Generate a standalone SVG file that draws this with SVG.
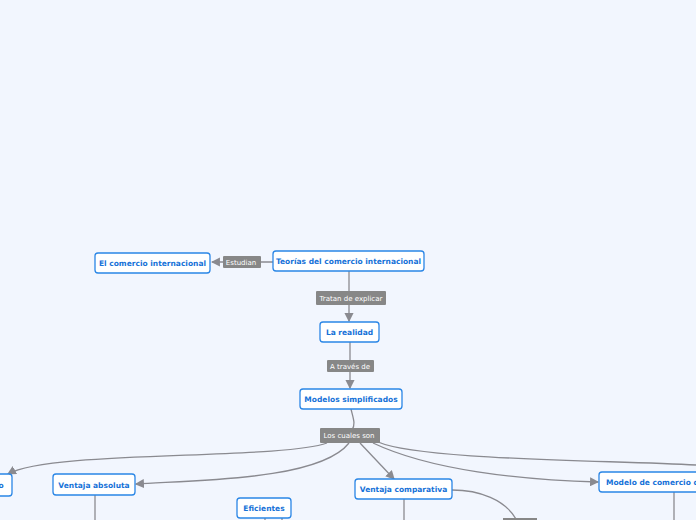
<svg xmlns="http://www.w3.org/2000/svg" width="696" height="520" viewBox="0 0 696 520">
<defs>
<style>
.n rect{fill:#fff;stroke:#2a86e6;stroke-width:1.3}
.n text{font-family:"DejaVu Sans",sans-serif;font-size:7.5px;font-weight:bold;fill:#1672d8;text-anchor:middle}
.l rect{fill:#878787}
.l text{font-family:"DejaVu Sans",sans-serif;font-size:7px;fill:#fff;text-anchor:middle}
.c path{fill:none;stroke:#8a8a90;stroke-width:1.3}
</style>
<marker id="a" viewBox="0 0 8 8" refX="7" refY="4" markerWidth="7" markerHeight="7" orient="auto"><path d="M0,0L8,4L0,8z" fill="#8a8a90"/></marker>
</defs>
<rect width="696" height="520" fill="#f2f6fe"/>
<g class="c">
<path d="M273,262H212" marker-end="url(#a)"/>
<path d="M349,271V321" marker-end="url(#a)"/>
<path d="M350,342V388" marker-end="url(#a)"/>
<path d="M351,409C353,418 356,424 352,430"/>
<path d="M327,443C280,460 50,450 8,474" marker-end="url(#a)"/>
<path d="M349,443C320,480 200,480 136,484" marker-end="url(#a)"/>
<path d="M360,443L394,479" marker-end="url(#a)"/>
<path d="M373,443C430,470 520,480 598,482" marker-end="url(#a)"/>
<path d="M378,442C420,460 600,460 696,465"/>
<path d="M452,490C480,490 505,500 516,519"/>
<path d="M95,495V520"/>
<path d="M404,499V520"/>
<path d="M674,492V520"/>
<path d="M265,518V520M282,518V520"/>
</g>
<g class="l"><rect x="223" y="256" width="38" height="12" rx="1"/><text x="241" y="264.5">Estudian</text></g>
<g class="l"><rect x="316" y="291" width="70" height="14" rx="1"/><text x="351" y="300.5">Tratan de explicar</text></g>
<g class="l"><rect x="327" y="360" width="47" height="12" rx="1"/><text x="350" y="368.5">A través de</text></g>
<g class="l"><rect x="320" y="428" width="60" height="15" rx="1"/><text x="349" y="438">Los cuales son</text></g>
<g class="l"><rect x="503" y="518" width="34" height="4"/></g>
<g id="teorias" class="n"><rect x="273" y="251" width="151" height="20" rx="3"/><text x="348.5" y="264">Teorías del comercio internacional</text></g>
<g id="comercio" class="n"><rect x="95" y="253" width="115" height="20" rx="3"/><text x="152.5" y="266">El comercio internacional</text></g>
<g id="realidad" class="n"><rect x="320" y="322" width="59" height="20" rx="3"/><text x="349.5" y="335">La realidad</text></g>
<g id="modelos" class="n"><rect x="300" y="389" width="102" height="20" rx="3"/><text x="351" y="402">Modelos simplificados</text></g>
<g id="izq" class="n"><rect x="-40" y="474" width="52" height="22" rx="3"/><text x="1" y="488">o</text></g>
<g id="absoluta" class="n"><rect x="53" y="474" width="82" height="21" rx="3"/><text x="94" y="487.5">Ventaja absoluta</text></g>
<g id="eficientes" class="n"><rect x="237" y="498" width="54" height="20" rx="3"/><text x="264" y="511">Eficientes</text></g>
<g id="comparativa" class="n"><rect x="355" y="479" width="97" height="20" rx="3"/><text x="403.5" y="492">Ventaja comparativa</text></g>
<g id="modelo" class="n"><rect x="599" y="472" width="120" height="20" rx="3"/><text x="606" y="485" style="text-anchor:start">Modelo de comercio de</text></g>
</svg>
